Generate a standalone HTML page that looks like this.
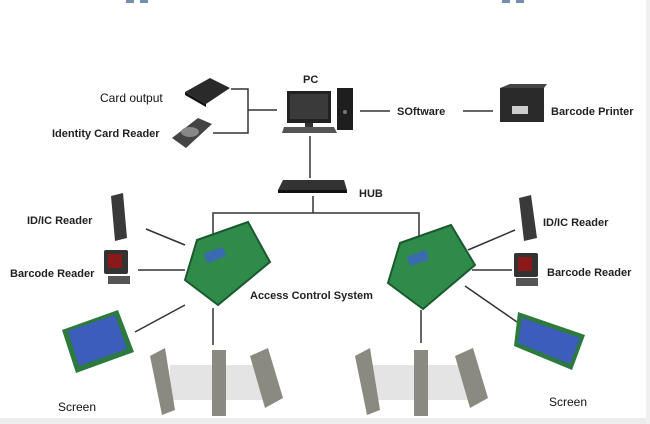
<!DOCTYPE html>
<html><head><style>
body{margin:0;background:#fff;}
svg{display:block;font-family:"Liberation Sans",sans-serif;}
.b{font-weight:bold;font-size:11px;fill:#222;}
.n{font-size:12px;fill:#111;}
</style></head><body>
<svg width="650" height="424" viewBox="0 0 650 424">
<rect width="650" height="424" fill="#fff"/>
<rect x="0" y="418" width="650" height="6" fill="#ececec"/>
<rect x="646" y="0" width="4" height="424" fill="#f0f0f0"/>
<g fill="#3a5f8a" opacity="0.7">
<rect x="126" y="0" width="8" height="3"/><rect x="140" y="0" width="8" height="3"/>
<rect x="502" y="0" width="8" height="3"/><rect x="516" y="0" width="8" height="3"/>
</g>
<g stroke="#333" stroke-width="1.5" fill="none">
<polyline points="231,89 248,89 248,133 213,133"/>
<line x1="248" y1="110" x2="277" y2="110"/>
<line x1="360" y1="111" x2="390" y2="111"/>
<line x1="463" y1="111" x2="493" y2="111"/>
<line x1="310" y1="136" x2="310" y2="178"/>
<line x1="313" y1="196" x2="313" y2="213"/>
<polyline points="213,245 213,213 419,213 419,237"/>
<line x1="146" y1="229" x2="185" y2="245"/>
<line x1="138" y1="270" x2="185" y2="270"/>
<line x1="135" y1="332" x2="185" y2="305"/>
<line x1="213" y1="308" x2="213" y2="345"/>
<line x1="421" y1="310" x2="421" y2="343"/>
<line x1="468" y1="250" x2="515" y2="230"/>
<line x1="472" y1="270" x2="512" y2="270"/>
<line x1="465" y1="286" x2="517" y2="322"/>
</g>
<polygon points="185,92 210,78 230,88 206,104" fill="#2a2a2a"/>
<polygon points="185,92 206,104 206,107 185,95" fill="#111"/>
<polygon points="172,138 198,118 212,124 186,148" fill="#444"/>
<ellipse cx="190" cy="132" rx="9" ry="5" fill="#888"/>
<rect x="287" y="91" width="44" height="32" fill="#222"/>
<rect x="290" y="94" width="38" height="25" fill="#3a3a3a"/>
<rect x="305" y="123" width="8" height="4" fill="#333"/>
<polygon points="284,127 334,127 337,133 282,133" fill="#555"/>
<rect x="337" y="88" width="16" height="42" fill="#1e1e1e"/>
<circle cx="345" cy="112" r="2" fill="#777"/>
<text x="303" y="83" class="b">PC</text>
<text x="397" y="115" class="b">SOftware</text>
<rect x="500" y="88" width="44" height="34" fill="#2a2a2a"/>
<polygon points="500,88 510,84 547,84 544,88" fill="#444"/>
<rect x="512" y="106" width="16" height="8" fill="#ccc"/>
<text x="551" y="115" class="b">Barcode Printer</text>
<text x="100" y="102" class="n" font-size="12">Card output</text>
<text x="52" y="137" class="b">Identity Card Reader</text>
<polygon points="283,180 344,180 347,190 278,190" fill="#333"/>
<rect x="278" y="190" width="69" height="3" fill="#111"/>
<text x="359" y="197" class="b">HUB</text>
<polygon points="111,196 123,193 127,238 115,241" fill="#3a3a3a"/>
<text x="27" y="224" class="b">ID/IC Reader</text>
<rect x="104" y="250" width="24" height="24" rx="2" fill="#333"/>
<rect x="108" y="254" width="14" height="14" fill="#8a1a1a"/>
<rect x="108" y="276" width="22" height="8" fill="#555"/>
<text x="10" y="277" class="b">Barcode Reader</text>
<polygon points="519,198 531,195 537,238 524,241" fill="#3a3a3a"/>
<text x="543" y="226" class="b">ID/IC Reader</text>
<rect x="514" y="253" width="24" height="24" rx="2" fill="#333"/>
<rect x="518" y="257" width="14" height="14" fill="#8a1a1a"/>
<rect x="516" y="278" width="22" height="8" fill="#555"/>
<text x="547" y="276" class="b">Barcode Reader</text>
<polygon points="197,240 248,222 270,262 218,305 185,280" fill="#2e8b4a" stroke="#1a5a2e" stroke-width="2"/>
<rect x="205" y="250" width="20" height="10" fill="#3a6ab0" transform="rotate(-20 215 255)"/>
<polygon points="400,243 451,225 475,265 423,309 388,283" fill="#2e8b4a" stroke="#1a5a2e" stroke-width="2"/>
<rect x="408" y="253" width="20" height="10" fill="#3a6ab0" transform="rotate(-20 418 258)"/>
<text x="250" y="299" class="b" font-size="12">Access Control System</text>
<polygon points="62,330 118,310 134,352 76,373" fill="#2d7a3e"/>
<polygon points="68,331 115,315 127,349 79,366" fill="#3d5dbd"/>
<polygon points="518,312 585,335 572,370 514,346" fill="#2d7a3e"/>
<polygon points="522,318 580,338 570,364 518,343" fill="#3d5dbd"/>
<text x="58" y="411" class="n">Screen</text>
<text x="549" y="406" class="n">Screen</text>
<g>
<rect x="170" y="365" width="100" height="35" fill="#e4e4e4"/>
<polygon points="150,356 165,348 175,410 162,415" fill="#8a8a80"/>
<rect x="212" y="350" width="14" height="66" fill="#8a8a80"/>
<polygon points="250,356 268,348 283,398 265,408" fill="#8a8a80"/>
<rect x="372" y="365" width="100" height="35" fill="#e4e4e4"/>
<polygon points="355,356 370,348 380,410 367,415" fill="#8a8a80"/>
<rect x="414" y="350" width="14" height="66" fill="#8a8a80"/>
<polygon points="455,356 473,348 488,398 470,408" fill="#8a8a80"/>
</g>
</svg>
</body></html>
